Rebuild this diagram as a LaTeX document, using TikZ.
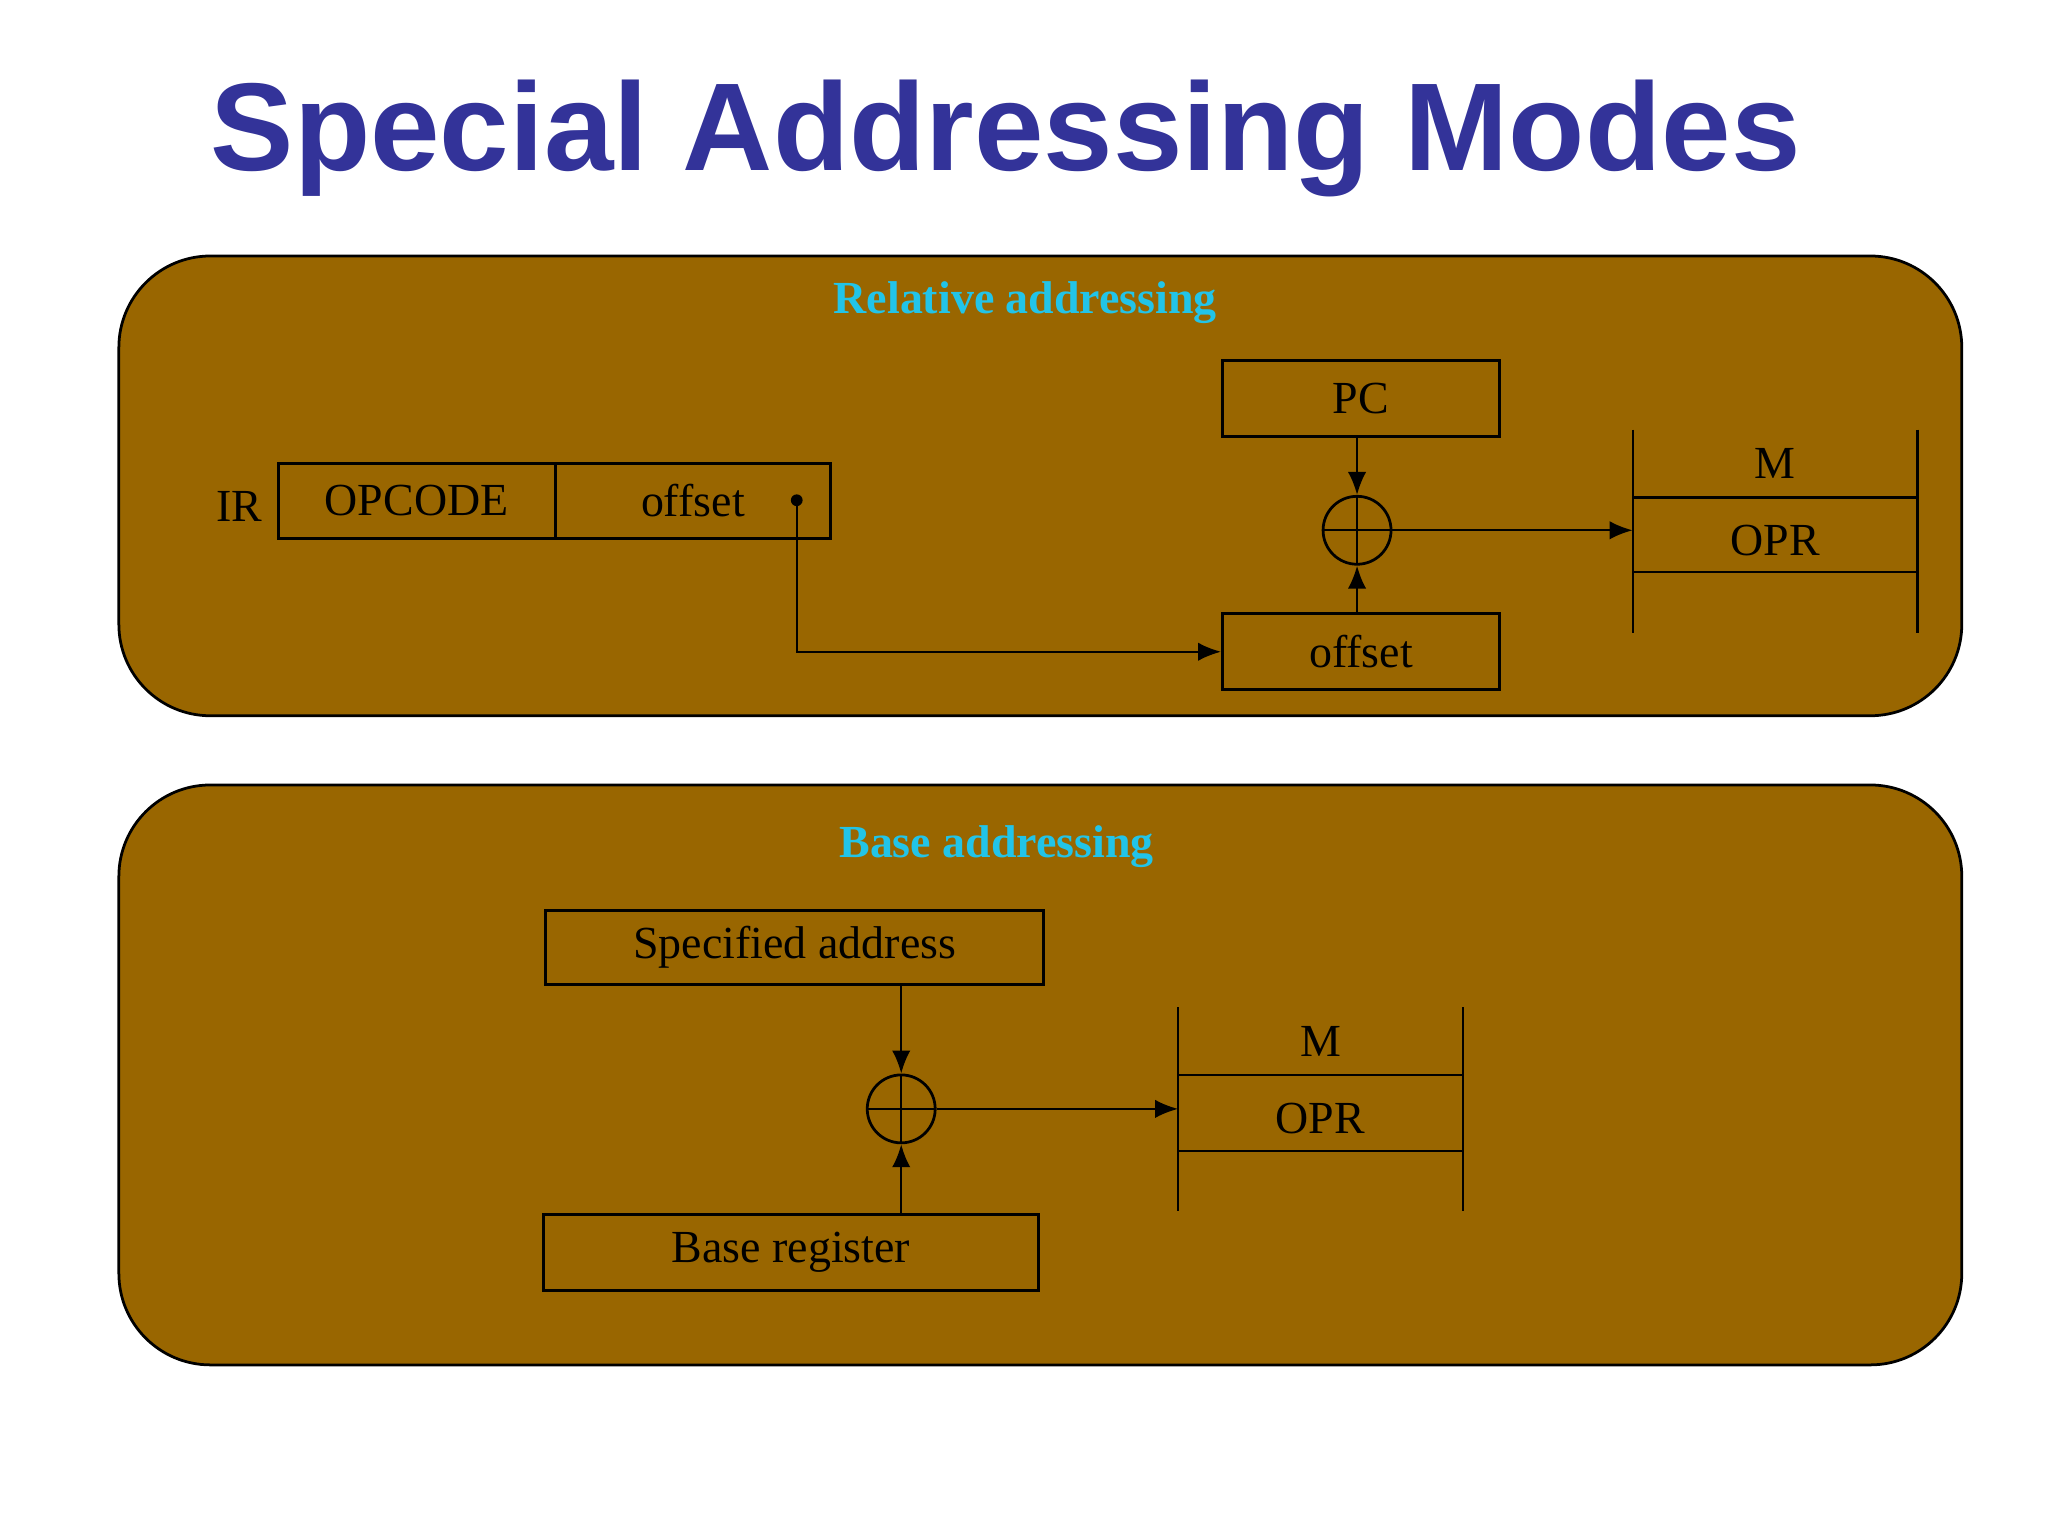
\documentclass[tikz,border=0pt]{standalone}
\usepackage{fontspec}
\setmainfont{Liberation Serif}
\newfontfamily\titlefont{Liberation Sans}
\usetikzlibrary{arrows.meta,shapes.geometric}
\definecolor{panel}{HTML}{996600}
\definecolor{ttl}{HTML}{333399}
\definecolor{cy}{HTML}{22C4E8}
\begin{document}
\begin{tikzpicture}[x=0.01cm,y=-0.01cm,
  reg/.style={draw,line width=0.6pt,inner sep=0pt,font=\fontsize{10}{12}\selectfont},
  lbl/.style={font=\fontsize{10}{12}\selectfont,inner sep=0pt},
  hd/.style={font=\fontsize{10}{12}\selectfont\bfseries,text=cy,inner sep=0pt},
  arr/.style={-{Latex[length=5pt,width=4pt]},line width=0.5pt},
  adder/.style={circle,draw,line width=0.6pt,minimum size=0.52cm,inner sep=0pt,
    path picture={\draw[line width=0.5pt] (path picture bounding box.north)--(path picture bounding box.south)
      (path picture bounding box.west)--(path picture bounding box.east);}},
  pan/.style={draw,fill=panel,line width=0.6pt,rounded corners=0.7cm}]
\fill[white] (0,0) rectangle (1568,1176);
\node[font=\titlefont\bfseries\fontsize{27.2}{32}\selectfont,text=ttl] (title) at (770,106) {Special Addressing Modes};
% panel 1
\draw[pan] (91,196) rectangle (1502,548);
\node[hd] (h1) at (785,232) {Relative addressing};
\node[lbl] (ir) at (183,388) {IR};
\node[reg,minimum width=2.12cm,minimum height=0.57cm] (op) at (319,383.5) {OPCODE};
\node[reg,minimum width=2.11cm,minimum height=0.57cm] (off) at (530.5,383.5) {offset};
\fill (610,383) circle (4.5) coordinate (dot);
\node[reg,minimum width=2.12cm,minimum height=0.58cm] (pc) at (1042,305) {PC};
\node[reg,minimum width=2.12cm,minimum height=0.58cm] (off2) at (1042,499) {offset};
\node[adder] (add1) at (1039,406) {};
\draw[line width=0.5pt] (1250,329)--(1250,485) (1468,329)--(1468,485) (1250,381)--(1468,381) (1250,438)--(1468,438);
\coordinate (m1) at (1250,406);
\node[lbl] (M1) at (1359,355) {M};
\node[lbl] (O1) at (1359,414) {OPR};
\draw[arr] (dot) |- (off2.west);
\draw[arr] (add1.north|-pc.south) -- (add1.north);
\draw[arr] (add1.south|-off2.north) -- (add1.south);
\draw[arr] (add1.east) -- (m1);
% panel 2
\draw[pan] (91,601) rectangle (1502,1045);
\node[hd] (h2) at (763,648) {Base addressing};
\node[reg,minimum width=3.81cm,minimum height=0.57cm] (sa) at (608.5,725.5) {Specified address};
\node[reg,minimum width=3.79cm,minimum height=0.58cm] (br) at (605.5,959) {Base register};
\node[adder] (add2) at (690,849) {};
\draw[line width=0.5pt] (902,771)--(902,927) (1120,771)--(1120,927) (902,823)--(1120,823) (902,881)--(1120,881);
\coordinate (m2) at (902,849);
\node[lbl] (M2) at (1011,797) {M};
\node[lbl] (O2) at (1011,856) {OPR};
\draw[arr] (add2.north|-sa.south) -- (add2.north);
\draw[arr] (add2.south|-br.north) -- (add2.south);
\draw[arr] (add2.east) -- (m2);
\end{tikzpicture}
\end{document}
